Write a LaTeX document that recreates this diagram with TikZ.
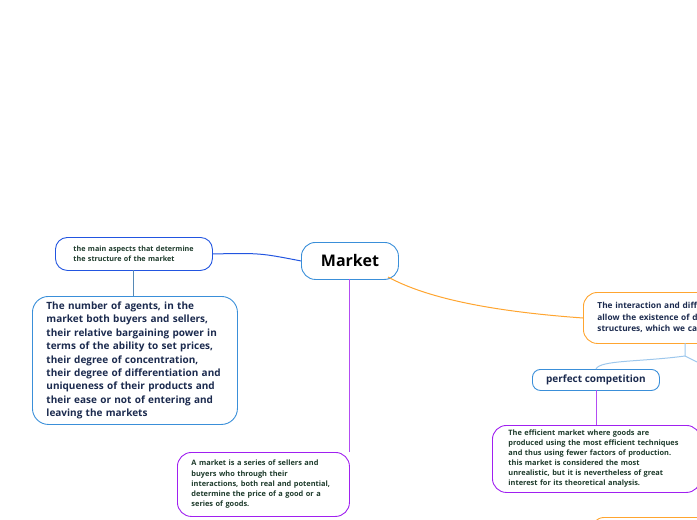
\documentclass[tikz,border=0pt]{standalone}
\usepackage{fontspec}
\setmainfont{Open Sans}
\definecolor{txt}{HTML}{1B2A4E}
\definecolor{gtxt}{HTML}{1E3B2C}
\definecolor{bl}{HTML}{3A8FD9}
\definecolor{dbl}{HTML}{2255E0}
\definecolor{pu}{HTML}{A020F0}
\definecolor{or}{HTML}{FFA530}
\begin{document}
\begin{tikzpicture}[x=1pt,y=-1pt,
  box/.style={draw,line width=0.9pt,rounded corners=14pt,inner sep=0pt,anchor=north west,font=\bfseries},
  tb/.style={box,align=left,inner ysep=0pt},
  lnk/.style={line width=1pt}]
\useasboundingbox (0,0) rectangle (697,520);
\clip (0,0) rectangle (697,520);
\node[box,bl,minimum width=97pt,minimum height=37pt,text=black,font=\bfseries\fontsize{16}{18}\selectfont] (m) at (301,242) {Market};
\node[tb,dbl,rounded corners=12pt,inner xsep=18pt,text width=121pt,minimum height=33pt,text=gtxt,font=\bfseries\fontsize{7.2}{10}\selectfont] (a) at (55,237) {the main aspects that determine\\the structure of the market};
\node[tb,bl,rounded corners=16pt,inner xsep=14pt,text width=177pt,minimum height=128pt,text=txt,font=\bfseries\fontsize{10}{13.4}\selectfont] (b) at (32,296) {The number of agents, in the\\market both buyers and sellers,\\their relative bargaining power in\\terms of the ability to set prices,\\their degree of concentration,\\their degree of differentiation and\\uniqueness of their products and\\their ease or not of entering and\\leaving the markets};
\node[tb,pu,inner xsep=14pt,text width=144pt,minimum height=64pt,text=gtxt,font=\bfseries\fontsize{7.4}{10.3}\selectfont] (c) at (177,452) {A market is a series of sellers and\\buyers who through their\\interactions, both real and potential,\\determine the price of a good or a\\series of goods.};
\node[tb,or,inner xsep=14pt,text width=220pt,minimum height=51pt,text=txt,font=\bfseries\fontsize{8.3}{11.5}\selectfont] (o) at (583,292) {The interaction and differences\\allow the existence of different\\structures, which we can classify};
\node[box,bl,rounded corners=8pt,minimum width=127pt,minimum height=21pt,text=txt,font=\bfseries\fontsize{10}{12}\selectfont] (p) at (532,369) {perfect competition};
\node[tb,pu,inner xsep=16pt,text width=176pt,minimum height=67pt,text=gtxt,font=\bfseries\fontsize{7.4}{10}\selectfont] (e) at (492,425) {The efficient market where goods are\\produced using the most efficient techniques\\and thus using fewer factors of production.\\this market is considered the most\\unrealistic, but it is nevertheless of great\\interest for its theoretical analysis.};
\node[box,or,minimum width=200pt,minimum height=30pt] (o2) at (590,517) {};
\draw[lnk,dbl] (a.east) .. controls (260,253) .. (m.west);
\draw[lnk,bl!60!gray] (133,270) -- (133,296);
\draw[lnk,pu!80] (349,279) -- (349,452);
\draw[lnk,or] (388,277) .. controls (430,300) and (500,312) .. (583,318);
\coordinate (j) at (685,343);
\draw[lnk,bl!50] (j) -- (685,356) .. controls (640,362) and (600,360) .. (596,369);
\draw[lnk,bl!50] (685,356) -- (697,362);
\draw[lnk,pu!80] (596,390) -- (596,425);
\end{tikzpicture}
\end{document}
